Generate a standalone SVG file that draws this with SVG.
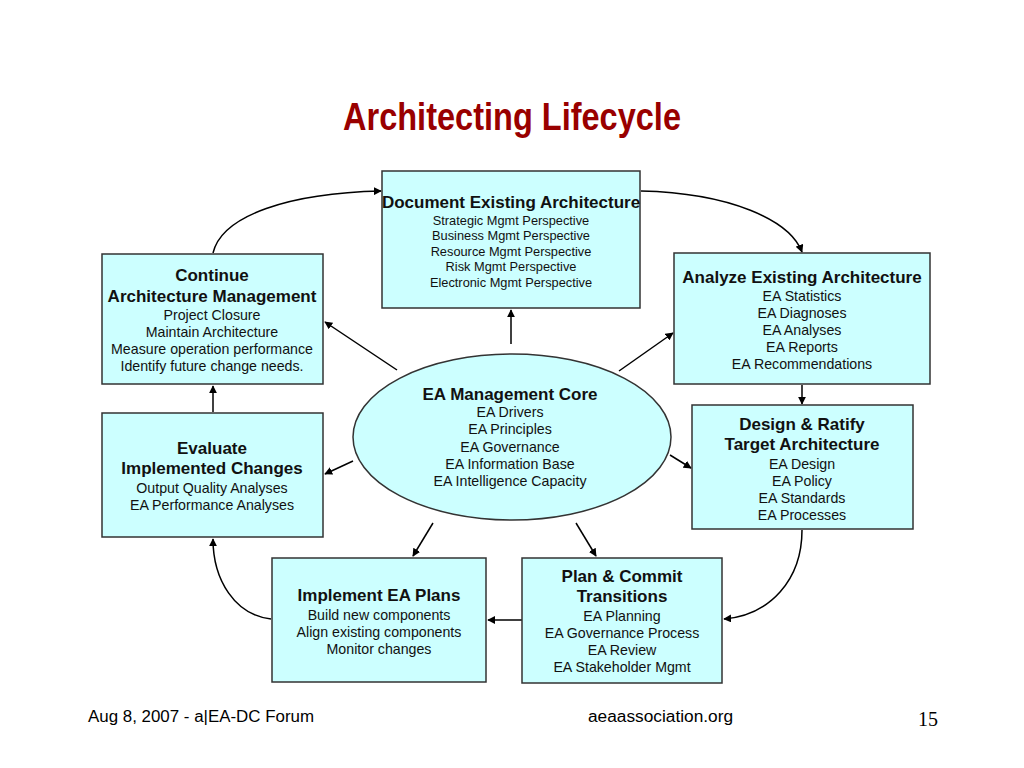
<svg xmlns="http://www.w3.org/2000/svg" width="1024" height="768" viewBox="0 0 1024 768">
<style>
.box{fill:#ccffff;stroke:#333333;stroke-width:1.5}
.t{font-family:"Liberation Sans",Arial,sans-serif;fill:#111;text-anchor:middle}
.h{font-weight:bold;font-size:17px}
.hd{font-weight:bold;font-size:17px}
.s{font-size:14.2px}
.xs{font-size:12.8px}
.c{fill:none;stroke:#000;stroke-width:1.5;marker-end:url(#ah)}
</style>
<defs>
<marker id="ah" viewBox="0 0 10 10" refX="9" refY="5" markerWidth="8" markerHeight="8" markerUnits="userSpaceOnUse" orient="auto">
<path d="M0,0 L10,5 L0,10 z" fill="#000"/>
</marker>
</defs>
<rect width="1024" height="768" fill="#fff"/>
<text x="512" y="130" font-family="'Liberation Sans Narrow','Arial Narrow','Liberation Sans',sans-serif" font-weight="bold" font-size="38" fill="#990000" text-anchor="middle" textLength="338" lengthAdjust="spacingAndGlyphs">Architecting Lifecycle</text>

<g id="connectors">
<line class="c" x1="511" y1="344" x2="511" y2="310"/>
<line class="c" x1="397" y1="370" x2="325" y2="322"/>
<line class="c" x1="619" y1="371" x2="673" y2="333"/>
<line class="c" x1="353" y1="461" x2="325" y2="474"/>
<line class="c" x1="670" y1="455" x2="691" y2="468"/>
<line class="c" x1="433" y1="523" x2="413" y2="556"/>
<line class="c" x1="576" y1="523" x2="596" y2="556"/>
<line class="c" x1="802" y1="385" x2="802" y2="404"/>
<line class="c" x1="213" y1="412" x2="213" y2="386"/>
<line class="c" x1="522" y1="620" x2="488" y2="620"/>
<path class="c" d="M802,530 C802,580 770,615 724,619"/>
<path class="c" d="M271,619 C235,615 213,580 213,539"/>
<path class="c" d="M213,253 C222,215 290,193 381,191"/>
<path class="c" d="M641,191 C730,193 790,220 802,252"/>
</g>

<g id="document">
<rect class="box" x="382" y="171" width="258" height="137"/>
<text class="t hd" x="511" y="208">Document Existing Architecture</text>
<text class="t xs" x="511" y="225">Strategic Mgmt Perspective</text>
<text class="t xs" x="511" y="240">Business Mgmt Perspective</text>
<text class="t xs" x="511" y="256">Resource Mgmt Perspective</text>
<text class="t xs" x="511" y="271">Risk Mgmt Perspective</text>
<text class="t xs" x="511" y="287">Electronic Mgmt Perspective</text>
</g>

<g id="continue">
<rect class="box" x="102" y="254" width="221" height="130"/>
<text class="t h" x="212" y="281">Continue</text>
<text class="t h" x="212" y="302">Architecture Management</text>
<text class="t s" x="212" y="320">Project Closure</text>
<text class="t s" x="212" y="337">Maintain Architecture</text>
<text class="t s" x="212" y="354">Measure operation performance</text>
<text class="t s" x="212" y="371">Identify future change needs.</text>
</g>

<g id="analyze">
<rect class="box" x="674" y="253" width="256" height="131"/>
<text class="t h" x="802" y="283">Analyze Existing Architecture</text>
<text class="t s" x="802" y="301">EA Statistics</text>
<text class="t s" x="802" y="318">EA Diagnoses</text>
<text class="t s" x="802" y="335">EA Analyses</text>
<text class="t s" x="802" y="352">EA Reports</text>
<text class="t s" x="802" y="369">EA Recommendations</text>
</g>

<g id="evaluate">
<rect class="box" x="102" y="413" width="221" height="124"/>
<text class="t h" x="212" y="454">Evaluate</text>
<text class="t h" x="212" y="474">Implemented Changes</text>
<text class="t s" x="212" y="493">Output Quality Analyses</text>
<text class="t s" x="212" y="510">EA Performance Analyses</text>
</g>

<g id="design">
<rect class="box" x="692" y="405" width="221" height="124"/>
<text class="t h" x="802" y="430">Design &amp; Ratify</text>
<text class="t h" x="802" y="450">Target Architecture</text>
<text class="t s" x="802" y="469">EA Design</text>
<text class="t s" x="802" y="486">EA Policy</text>
<text class="t s" x="802" y="503">EA Standards</text>
<text class="t s" x="802" y="520">EA Processes</text>
</g>

<g id="implement">
<rect class="box" x="272" y="558" width="214" height="124"/>
<text class="t h" x="379" y="601">Implement EA Plans</text>
<text class="t s" x="379" y="620">Build new components</text>
<text class="t s" x="379" y="637">Align existing components</text>
<text class="t s" x="379" y="654">Monitor changes</text>
</g>

<g id="plan">
<rect class="box" x="522" y="558" width="200" height="125"/>
<text class="t h" x="622" y="582">Plan &amp; Commit</text>
<text class="t h" x="622" y="602">Transitions</text>
<text class="t s" x="622" y="621">EA Planning</text>
<text class="t s" x="622" y="638">EA Governance Process</text>
<text class="t s" x="622" y="655">EA Review</text>
<text class="t s" x="622" y="672">EA Stakeholder Mgmt</text>
</g>

<g id="core">
<ellipse cx="512" cy="437" rx="159" ry="83" fill="#ccffff" stroke="#333333" stroke-width="1.5"/>
<text class="t h" x="510" y="400">EA Management Core</text>
<text class="t s" x="510" y="417">EA Drivers</text>
<text class="t s" x="510" y="434">EA Principles</text>
<text class="t s" x="510" y="452">EA Governance</text>
<text class="t s" x="510" y="469">EA Information Base</text>
<text class="t s" x="510" y="486">EA Intelligence Capacity</text>
</g>

<text x="88" y="722" font-family="'Liberation Sans Narrow','Arial Narrow','Liberation Sans',sans-serif" font-size="16" fill="#000" textLength="226" lengthAdjust="spacingAndGlyphs">Aug 8, 2007 - a|EA-DC Forum</text>
<text x="588" y="722" font-family="'Liberation Sans Narrow','Arial Narrow','Liberation Sans',sans-serif" font-size="16" fill="#000" textLength="145" lengthAdjust="spacingAndGlyphs">aeaassociation.org</text>
<text x="918" y="726" font-family="'Liberation Serif','Times New Roman',serif" font-size="20" fill="#000">15</text>
</svg>
